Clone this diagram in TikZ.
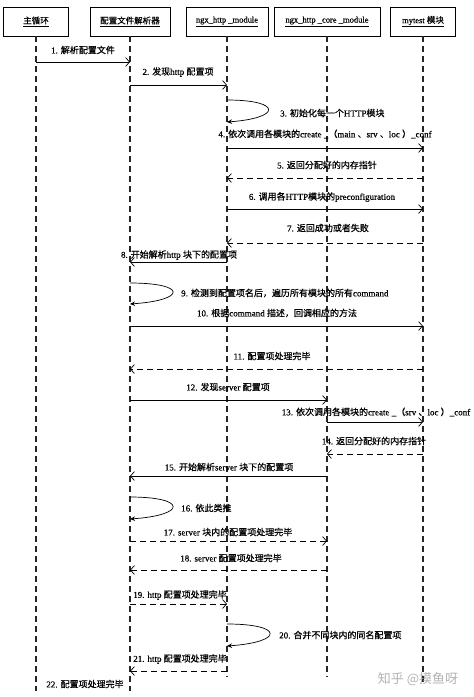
\documentclass[tikz,border=0pt]{standalone}
\usepackage{fontspec}
\setmainfont{Liberation Serif}[FakeBold=0.4]
\newfontfamily\cjk{Noto Sans CJK SC}[FakeBold=0.6]
\newfontfamily\cjklight{Noto Sans CJK SC}
\newcommand{\zh}[1]{{\cjk #1}}
\usetikzlibrary{arrows.meta}
\begin{document}
\begin{tikzpicture}[x=1pt,y=-1pt,
  hdr/.style={draw,line width=0.8pt,minimum height=29pt,inner sep=0pt,font=\fontsize{8.5}{10}\selectfont},
  life/.style={line width=1.1pt,dash pattern=on 6pt off 4pt,black!85},
  msg/.style={line width=0.7pt,-{Straight Barb[length=4pt,width=9pt]}},
  ret/.style={msg,dash pattern=on 6pt off 4pt},
  selfloop/.style={line width=0.7pt,-{Stealth[length=5pt,width=4.5pt]}},
  lbl/.style={font=\fontsize{9}{10}\selectfont,inner sep=1pt},
  wm/.style={font=\cjklight\fontsize{13}{14}\selectfont,text=black!30,inner sep=0pt}]
\useasboundingbox (0,0) rectangle (474,697);
% headers
\node[hdr,minimum width=65pt] (hA) at (36,21.5) {\underline{\zh{主循环}}};
\node[hdr,minimum width=80pt] (hB) at (130,21.5) {\underline{\zh{配置文件解析器}}};
\node[hdr,minimum width=82pt] (hC) at (227,21.5) {\underline{ngx\_http \_module}};
\node[hdr,minimum width=106pt] (hD) at (327,21.5) {\underline{ngx\_http \_core \_module}};
\node[hdr,minimum width=65pt] (hE) at (423,21.5) {\underline{mytest \zh{模块}}};
% lifeline ends
\coordinate (eA) at (36,691);
\coordinate (eB) at (130,691);
\coordinate (eC) at (227,677);
\coordinate (eD) at (327,677);
\coordinate (eE) at (423,684);
\draw[life] (hA.south) -- (eA);
\draw[life] (hB.south) -- (eB);
\draw[life] (hC.south) -- (eC);
\draw[life] (hD.south) -- (eD);
\draw[life] (hE.south) -- (eE);
% rows
\foreach \n/\y in {1/62,2/85,3a/100,3b/122,4/148,5/178,6/209,7/243,8/262,9a/283,9b/304,10/326,11/369,12/400,13/422,14/454,15/476,16a/497,16b/519,17/541,18/570,19/604,20a/624,20b/646,21/671}
  \coordinate (r\n) at (0,\y);
% messages
\draw[msg] (hA |- r1) -- (hB |- r1);
\draw[msg] (hB |- r2) -- (hC |- r2);
\draw[selfloop] (hC |- r3a) .. controls +(55,0) and +(55,-4) .. (hC |- r3b);
\draw[msg] (hC |- r4) -- (hE |- r4);
\draw[ret] (hE |- r5) -- (hC |- r5);
\draw[msg] (hC |- r6) -- (hE |- r6);
\draw[ret] (hE |- r7) -- (hC |- r7);
\draw[msg] (hC |- r8) -- (hB |- r8);
\draw[selfloop] (hB |- r9a) .. controls +(57,0) and +(57,-4) .. (hB |- r9b);
\draw[msg] (hB |- r10) -- (hE |- r10);
\draw[ret] (hE |- r11) -- (hB |- r11);
\draw[msg] (hB |- r12) -- (hD |- r12);
\draw[msg] (hD |- r13) -- (hE |- r13);
\draw[ret] (hE |- r14) -- (hD |- r14);
\draw[msg] (hD |- r15) -- (hB |- r15);
\draw[selfloop] (hB |- r16a) .. controls +(57,0) and +(57,-4) .. (hB |- r16b);
\draw[ret] (hB |- r17) -- (hD |- r17);
\draw[ret] (hD |- r18) -- (hB |- r18);
\draw[ret] (hB |- r19) -- (hC |- r19);
\draw[selfloop] (hC |- r20a) .. controls +(57,0) and +(57,-4) .. (hC |- r20b);
\draw[ret] (hC |- r21) -- (hB |- r21);
% labels
\node[lbl] (t1) at (83,50) {1. \zh{解析配置文件}};
\node[lbl] (t2) at (178,72) {2. \zh{发现}http \zh{配置项}};
\node[lbl,anchor=west] (t3) at (279,113) {3. \zh{初始化每一个}HTTP\zh{模块}};
\node[lbl] (t4) at (325,134) {4. \zh{依次调用各模块的}create \_\zh{（}main \zh{、}srv \zh{、}loc \zh{）}\_conf};
\node[lbl] (t5) at (327,165) {5. \zh{返回分配好的内存指针}};
\node[lbl] (t6) at (322,197) {6. \zh{调用各}HTTP\zh{模块的}preconfiguration};
\node[lbl] (t7) at (328,228) {7. \zh{返回成功或者失败}};
\node[lbl] (t8) at (179,255) {8. \zh{开始解析}http \zh{块下的配置项}};
\node[lbl,anchor=west] (t9) at (180,293) {9. \zh{检测到配置项名后，遍历所有模块的所有}command};
\node[lbl] (t10) at (277,313) {10. \zh{根据}command \zh{描述，回调相应的方法}};
\node[lbl] (t11) at (272,356) {11. \zh{配置项处理完毕}};
\node[lbl] (t12) at (228,387) {12. \zh{发现}server \zh{配置项}};
\node[lbl] (t13) at (376,412) {13. \zh{依次调用各模块的}create \_\zh{（}srv \zh{、}loc \zh{）}\_conf};
\node[lbl] (t14) at (374,441) {14. \zh{返回分配好的内存指针}};
\node[lbl] (t15) at (229,467) {15. \zh{开始解析}server \zh{块下的配置项}};
\node[lbl,anchor=west] (t16) at (180,508) {16. \zh{依此类推}};
\node[lbl] (t17) at (228,532) {17. server \zh{块内的配置项处理完毕}};
\node[lbl] (t18) at (231,558) {18. server \zh{配置项处理完毕}};
\node[lbl] (t19) at (180,595) {19. http \zh{配置项处理完毕}};
\node[lbl,anchor=west] (t20) at (278,635) {20. \zh{合并不同块内的同名配置项}};
\node[lbl] (t21) at (180,659) {21. http \zh{配置项处理完毕}};
\node[lbl] (t22) at (85,684) {22. \zh{配置项处理完毕}};
\node[wm] (wmk) at (418,679) {知乎 @摸鱼呀};
\end{tikzpicture}
\end{document}
